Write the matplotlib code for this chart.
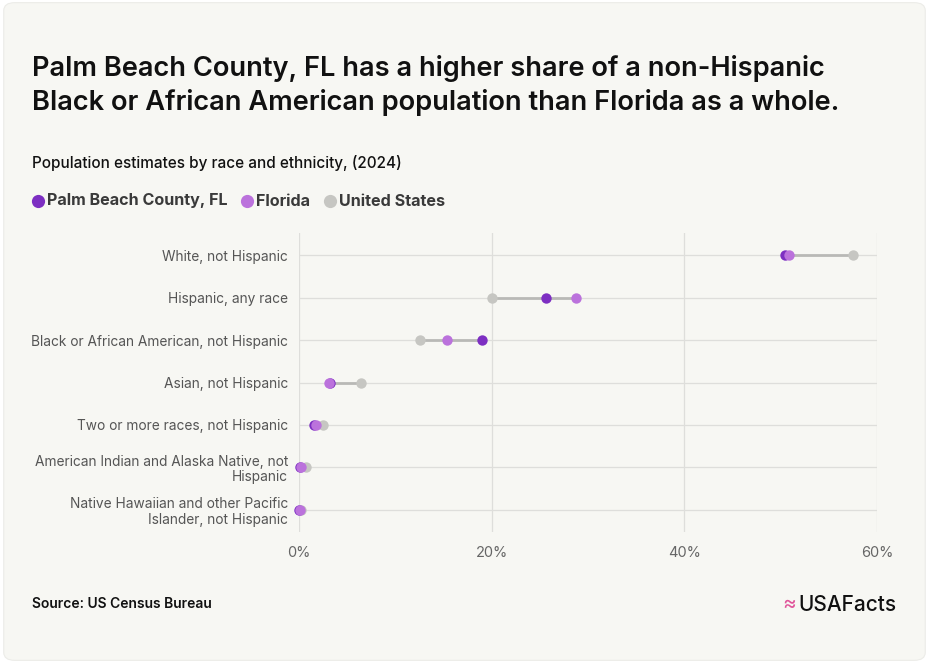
import matplotlib.pyplot as plt
from matplotlib.patches import FancyBboxPatch
from matplotlib.lines import Line2D

categories = [
    "White, not Hispanic",
    "Hispanic, any race",
    "Black or African American, not Hispanic",
    "Asian, not Hispanic",
    "Two or more races, not Hispanic",
    "American Indian and Alaska Native, not\nHispanic",
    "Native Hawaiian and other Pacific\nIslander, not Hispanic",
]
palm_beach = [50.4, 25.6, 19.0, 3.2, 1.6, 0.1, 0.05]
florida = [50.9, 28.8, 15.4, 3.1, 1.8, 0.2, 0.06]
united_states = [57.5, 20.0, 12.6, 6.4, 2.5, 0.7, 0.2]

series_names = ["Palm Beach County, FL", "Florida", "United States"]
colors = ["#7d2fc2", "#bb72dc", "#c6c6c2"]
xticks = [0, 20, 40, 60]

plt.rcParams['font.family'] = ['Inter', 'DejaVu Sans']

fig = plt.figure(figsize=(9.29, 6.63), dpi=100)
fig.patch.set_facecolor("white")
card = FancyBboxPatch((0.004, 0.004), 0.992, 0.992, boxstyle="round,pad=0,rounding_size=0.012",
                      transform=fig.transFigure, facecolor="#f7f7f3", edgecolor="#ececE8",
                      linewidth=0.8, zorder=-5)
fig.patches.append(card)

ax = fig.add_axes([299 / 929, 1 - 532 / 663, 578 / 929, 299 / 663])
ax.set_facecolor("none")
ax.set_zorder(2)

ys = list(range(len(categories)))
for y, a, b, c in zip(ys, palm_beach, florida, united_states):
    lo = min(a, b, c)
    hi = max(a, b, c)
    ax.plot([lo, hi], [y, y], color="#b9b9b6", lw=2, zorder=2, solid_capstyle="butt")
ax.scatter(united_states, ys, s=56, color=colors[2], zorder=3, linewidths=0, clip_on=False)
ax.scatter(palm_beach, ys, s=56, color=colors[0], zorder=4, linewidths=0, clip_on=False)
ax.scatter(florida, ys, s=56, color=colors[1], zorder=5, linewidths=0, clip_on=False)

ax.set_xlim(0, 60)
ax.set_ylim(len(categories) - 0.48, -0.52)
ax.set_xticks(xticks)
ax.set_xticklabels([f"{t}%" for t in xticks], fontsize=10.5, color="#666666")
ax.set_yticks(ys)
ax.set_yticklabels(categories, fontsize=9.9, color="#555555", linespacing=1.1)
ax.tick_params(axis="both", length=0)
ax.tick_params(axis="x", pad=10)
ax.tick_params(axis="y", pad=8)
ax.grid(True, color="#dededb", lw=0.9, zorder=0)
ax.set_axisbelow(True)
for s in ax.spines.values():
    s.set_visible(False)

fig.text(32 / 929, 1 - 68 / 663, "Palm Beach County, FL has a higher share of a non-Hispanic",
         fontsize=19.6, fontweight="semibold", color="#111111", va="center")
fig.text(32 / 929, 1 - 102 / 663, "Black or African American population than Florida as a whole.",
         fontsize=19.6, fontweight="semibold", color="#111111", va="center")
fig.text(32 / 929, 1 - 163 / 663, "Population estimates by race and ethnicity, (2024)",
         fontsize=11, fontweight="medium", color="#111111", va="center")

# legend row
x = 32
for name, col in zip(series_names, colors):
    fig.add_artist(Line2D([(x + 6) / 929], [1 - 201 / 663], marker="o", markersize=9.5,
                          color=col, markeredgewidth=0, transform=fig.transFigure))
    t = fig.text((x + 15) / 929, 1 - 201 / 663, name, fontsize=11.6, fontweight="bold",
                 color="#3a3a3a", va="center")
    fig.canvas.draw()
    bb = t.get_window_extent()
    x = bb.x1 + 14

fig.text(32 / 929, 1 - 604 / 663, "Source: US Census Bureau", fontsize=10,
         fontweight="semibold", color="#111111", va="center")
fig.text(897 / 929, 1 - 605 / 663, "USAFacts", fontsize=15, fontweight="medium",
         color="#111111", va="center", ha="right")
fig.text(789 / 929, 1 - 604 / 663, "\u2248", fontsize=15, color="#e0559a", va="center", ha="center")

fig.savefig("out.png", dpi=100, facecolor=fig.get_facecolor())
